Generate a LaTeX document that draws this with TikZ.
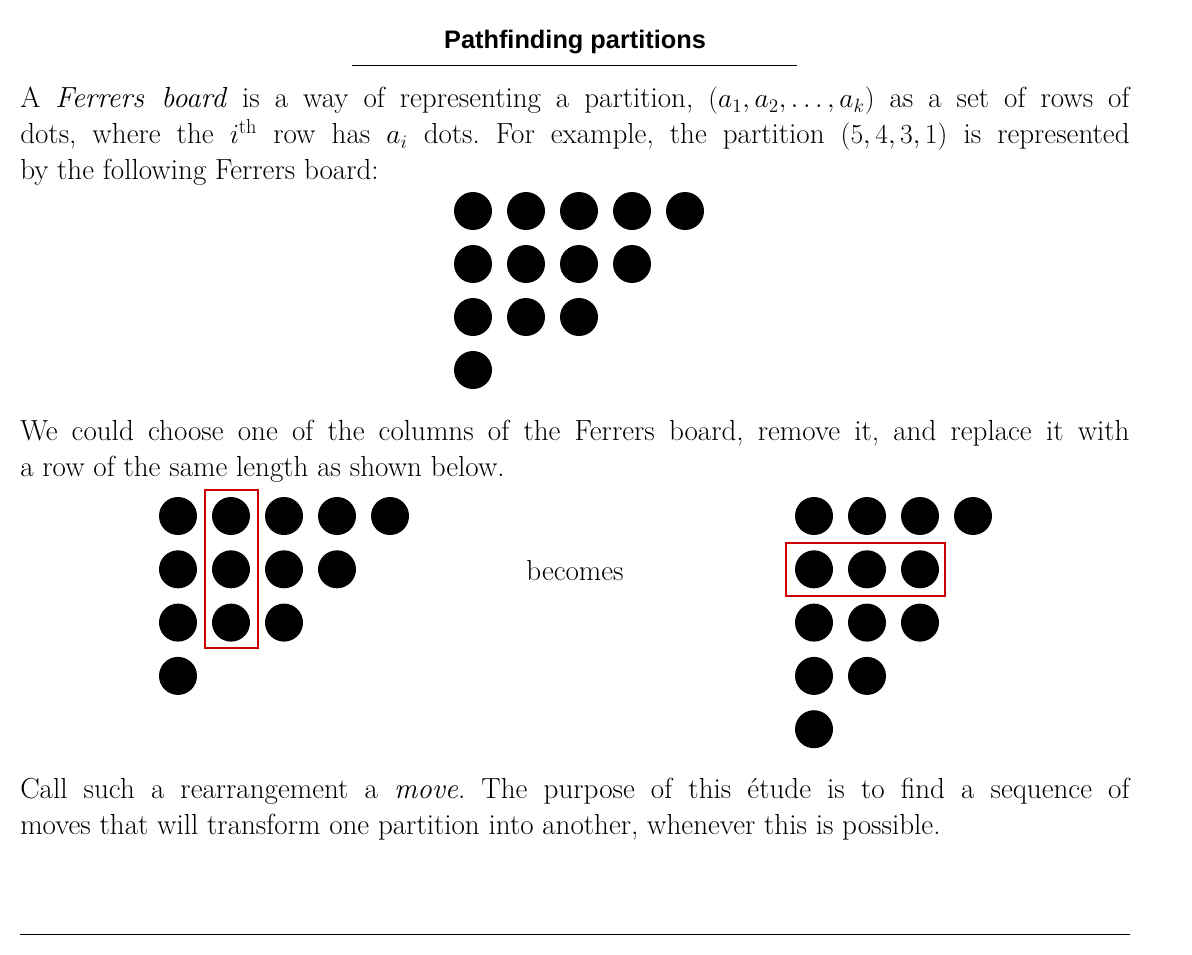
\documentclass[tikz,border=0pt]{standalone}
\usepackage{fontspec}
\newfontfamily\titlefont{Liberation Sans}
\begin{document}
\frenchspacing
\begin{tikzpicture}[x=0.75pt,y=-0.75pt,
  dot/.style={circle,fill=black,inner sep=0pt,minimum size=28.5pt},
  redbox/.style={draw=red!80!black,line width=1.4pt},
  para/.style={anchor=north west,text width=832pt,align=justify,inner sep=0pt,font=\fontsize{21.8}{27}\selectfont}]
\useasboundingbox (0,0) rectangle (1192,954);
\node[font=\titlefont\bfseries\fontsize{19}{22}\selectfont] (title) at (575,42) {Pathfinding partitions};
\draw[line width=0.6pt] (352,65) -- (797,65);
\node[para] (p1) at (20,87) {A \emph{Ferrers board} is a way of representing a partition, $(a_1,a_2,\ldots,a_k)$ as a set of rows of\linebreak dots, where the $i^{\mathrm{th}}$ row has $a_i$ dots. For example, the partition $(5,4,3,1)$ is represented\linebreak by the following Ferrers board:};
\foreach \r/\n in {0/5,1/4,2/3,3/1}{
  \foreach \c in {1,...,\n}{
    \node[dot] (a\r\c) at ({473+53*(\c-1)},{211+53*\r}) {};}}
\node[para] (p2) at (20,420) {We could choose one of the columns of the Ferrers board, remove it, and replace it with\linebreak a row of the same length as shown below.};
\foreach \r/\n in {0/5,1/4,2/3,3/1}{
  \foreach \c in {1,...,\n}{
    \node[dot] (b\r\c) at ({178+53*(\c-1)},{516+53.3*\r}) {};}}
\draw[redbox] (205,490) rectangle (258,648);
\node[font=\fontsize{21.8}{24}\selectfont] (becomes) at (575,571) {becomes};
\foreach \r/\n in {0/4,1/3,2/3,3/2,4/1}{
  \foreach \c in {1,...,\n}{
    \node[dot] (c\r\c) at ({814+53*(\c-1)},{516+53.3*\r}) {};}}
\draw[redbox] (786,543) rectangle (945,596);
\node[para] (p3) at (20,778) {Call such a rearrangement a \emph{move}. The purpose of this \'etude is to find a sequence of\linebreak moves that will transform one partition into another, whenever this is possible.};
\draw[line width=0.6pt] (20,934) -- (1130,934);
\end{tikzpicture}
\end{document}
